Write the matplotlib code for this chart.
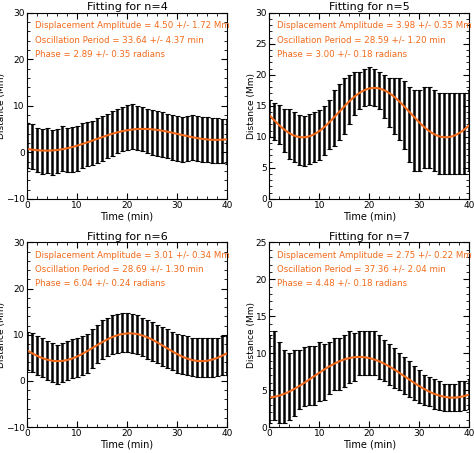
import numpy as np
import matplotlib
matplotlib.use("Agg")
import matplotlib.pyplot as plt
from matplotlib.ticker import MultipleLocator

t = np.arange(0, 41, 1.0)
p1 = [1.5,1.2,0.5,0.2,0.4,0.0,0.3,0.8,0.5,0.6,0.8,1.5,1.8,2.0,2.5,3.0,3.5,4.0,4.6,5.0,5.3,5.5,5.2,5.0,4.6,4.3,4.0,3.8,3.5,3.2,3.0,2.8,3.0,3.2,3.0,2.8,2.7,2.6,2.5,2.4,2.3]
e1 = [4.8]*41
p2 = [13,12.5,12,11,10.5,10,9.5,9.3,9.6,10,10.3,11,12,13,14,15,16,17,17.5,18,18.2,18,17.5,16.5,15.5,15,14.5,13.5,12,11,11,11.5,11.5,11,10.5,10.5,10.5,10.5,10.5,10.5,11]
e2 = [3,3,3.2,3.5,4,4,4,4,4,4,4,4,4,4.5,4.5,4.5,4,3.5,3,3,3,3,3,3.5,4,4.5,5,5.5,6,6.5,6.5,6.5,6.5,6.5,6.5,6.5,6.5,6.5,6.5,6.5,6.5]
p3 = [6.5,6.2,5.5,5,4.5,4,3.5,4,4.5,4.8,5,5.5,6,7,8,9,9.5,10,10.3,10.5,10.5,10.3,10,9.5,9,8.5,8,7.5,7,6.5,6,5.8,5.5,5.2,5,5,5,5,5.2,5.5,5.5]
e3 = [4.2]*41
p4 = [6.5,7,6,5.5,5.5,6,6.5,6.8,7,7,7.5,7.5,8,8.5,8.5,9,9.5,9.5,10,10,10,10,9.5,9,8.5,8,7.5,7,6.5,6,5.5,5,4.8,4.5,4.3,4,4,4,4.2,4.3,4.5]
e4 = [6,6,5.5,5,4.5,4.5,4,4,4,4,4,3.8,3.5,3.5,3.5,3.5,3.5,3.3,3,3,3,3,3,2.8,2.8,2.7,2.5,2.5,2.4,2.3,2.2,2,2,2,2,1.8,1.8,1.8,2,2,2]

titles = ["Fitting for n=4", "Fitting for n=5", "Fitting for n=6", "Fitting for n=7"]
amp = ["4.50 +/- 1.72", "3.98 +/- 0.35", "3.01 +/- 0.34", "2.75 +/- 0.22"]
per = ["33.64 +/- 4.37", "28.59 +/- 1.20", "28.69 +/- 1.30", "37.36 +/- 2.04"]
pha = ["2.89 +/- 0.35", "3.00 +/- 0.18", "6.04 +/- 0.24", "4.48 +/- 0.18"]
fit_c = [1.78, 13.9, 7.3, 6.75]
fit_a = [1.72, 3.98, 3.01, 2.75]
fit_tmax = [22, 21, 20.5, 18]
fit_p = [34, 28.59, 28.69, 37.36]
fit_b = [0.068, 0, 0, 0]
ylims = [(-10, 30), (0, 30), (-10, 30), (0, 25)]
ymaj = [10, 5, 10, 5]

data = [(p1, e1), (p2, e2), (p3, e3), (p4, e4)]
pos = [[0.057, 0.561, 0.422, 0.411], [0.568, 0.561, 0.422, 0.411],
       [0.057, 0.057, 0.422, 0.408], [0.568, 0.057, 0.422, 0.408]]
orange = "#F26A1B"

fig = plt.figure(figsize=(4.74, 4.53), dpi=100)
for i in range(4):
    ax = fig.add_axes(pos[i])
    y, e = data[i]
    ax.errorbar(t, y, yerr=e, fmt="none", ecolor="black", elinewidth=1.8, capsize=1.8, capthick=0.8)
    tt = np.linspace(0, 40, 400)
    yy = fit_c[i] + fit_a[i]*np.cos(2*np.pi*(tt - fit_tmax[i])/fit_p[i]) + fit_b[i]*tt
    ax.plot(tt, yy, color=orange, lw=1.5)
    ax.set_xlim(0, 40)
    ax.set_ylim(*ylims[i])
    ax.xaxis.set_major_locator(MultipleLocator(10))
    ax.xaxis.set_minor_locator(MultipleLocator(2))
    ax.yaxis.set_major_locator(MultipleLocator(ymaj[i]))
    ax.yaxis.set_minor_locator(MultipleLocator(ymaj[i]/5))
    ax.tick_params(which="both", direction="in", top=True, right=True, labelsize=6.5, pad=1.5)
    ax.tick_params(which="major", length=4)
    ax.tick_params(which="minor", length=2)
    ax.set_title(titles[i], fontsize=8, pad=2)
    ax.set_xlabel("Time (min)", fontsize=7, labelpad=1)
    ax.set_ylabel("Distance (Mm)", fontsize=6.5, labelpad=0)
    ax.text(0.04, 0.93, f"Displacement Amplitude = {amp[i]} Mm", transform=ax.transAxes, color=orange, fontsize=6.2, va="center")
    ax.text(0.04, 0.855, f"Oscillation Period = {per[i]} min", transform=ax.transAxes, color=orange, fontsize=6.2, va="center")
    ax.text(0.04, 0.78, f"Phase = {pha[i]} radians", transform=ax.transAxes, color=orange, fontsize=6.2, va="center")
fig.savefig("out.png", dpi=100)
